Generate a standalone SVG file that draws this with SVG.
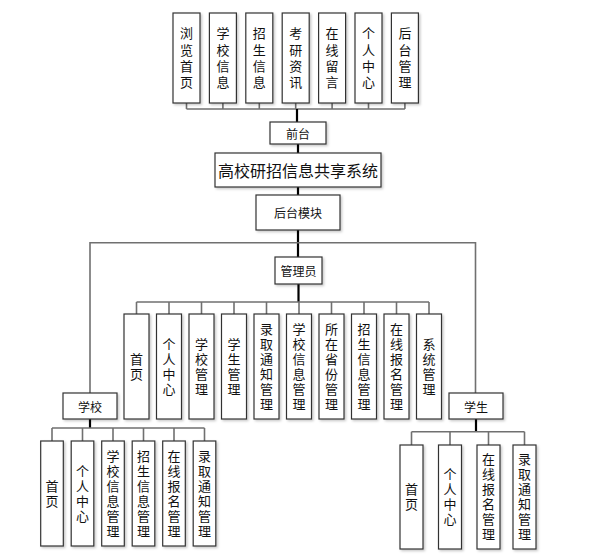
<svg xmlns="http://www.w3.org/2000/svg" width="607" height="558" viewBox="0 0 607 558">
  <defs>
    <filter id="sh" x="-20%" y="-20%" width="140%" height="140%">
      <feDropShadow dx="1.5" dy="1.5" stdDeviation="0.8" flood-color="#000" flood-opacity="0.22"/>
    </filter>
  </defs>
  <style>
    .box { fill: #ffffff; stroke: #333333; stroke-width: 1.2; filter: url(#sh); }
    .bus { stroke: #707070; stroke-width: 1.6; fill: none; }
    .trunk { stroke: #000000; stroke-width: 2.2; fill: none; }
    .t { font-family: "Noto Sans CJK SC", "Noto Sans", sans-serif; fill: #111; text-anchor: middle; }
    .h { font-size: 12px; dominant-baseline: central; }
    .title { font-size: 16px; dominant-baseline: central; }
    .v { font-size: 13px; writing-mode: vertical-rl; letter-spacing: 2px; }
    .vt { font-size: 13px; writing-mode: vertical-rl; letter-spacing: 3.3px; }
  </style>
  <rect width="607" height="558" fill="#ffffff"/>

  <!-- connectors -->
  <g id="connectors">
    <!-- front-end bus -->
    <path class="bus" d="M186.5 103V109M222.9 103V109M259.3 103V109M295.7 103V109M332.1 103V109M368.5 103V109M404.9 103V109M186.5 109H404.9"/>
    <path class="trunk" d="M297 109V122"/>
    <path class="trunk" d="M298 144V153M298 187V195M298 230V257"/>
    <!-- back-end bus to roles -->
    <path class="bus" d="M90 393V242.7H475.5V393"/>
    <!-- admin children -->
    <path class="trunk" d="M298.5 284V302"/>
    <path class="bus" d="M136.5 302H429M136.5 302V314M169 302V314M201.5 302V314M234 302V314M266.5 302V314M299 302V314M331.5 302V314M364 302V314M396.5 302V314M429 302V314"/>
    <!-- school children -->
    <path class="trunk" d="M90 419V428"/>
    <path class="bus" d="M52 428H204.5M52 428V441M82.5 428V441M113 428V441M143.5 428V441M174 428V441M204.5 428V441"/>
    <!-- student children -->
    <path class="trunk" d="M476 419V431.7"/>
    <path class="bus" d="M411.5 431.7H524.5M411.5 431.7V445M450 431.7V445M488.5 431.7V445M524.5 431.7V445"/>
  </g>

  <!-- front-end pages -->
  <g id="f1"><rect class="box" x="173" y="13" width="27" height="90"/><text class="t vt" x="186.5" y="59.5">浏览首页</text></g>
  <g id="f2"><rect class="box" x="209.4" y="13" width="27" height="90"/><text class="t vt" x="222.9" y="59.5">学校信息</text></g>
  <g id="f3"><rect class="box" x="245.8" y="13" width="27" height="90"/><text class="t vt" x="259.3" y="59.5">招生信息</text></g>
  <g id="f4"><rect class="box" x="282.2" y="13" width="27" height="90"/><text class="t vt" x="295.7" y="59.5">考研资讯</text></g>
  <g id="f5"><rect class="box" x="318.6" y="13" width="27" height="90"/><text class="t vt" x="332.1" y="59.5">在线留言</text></g>
  <g id="f6"><rect class="box" x="355" y="13" width="27" height="90"/><text class="t vt" x="368.5" y="59.5">个人中心</text></g>
  <g id="f7"><rect class="box" x="391.4" y="13" width="27" height="90"/><text class="t vt" x="404.9" y="59.5">后台管理</text></g>

  <!-- main spine -->
  <g id="frontend"><rect class="box" x="270" y="122" width="56" height="22"/><text class="t h" x="298" y="133">前台</text></g>
  <g id="system"><rect class="box" x="215" y="153" width="166" height="34"/><text class="t title" x="298" y="170">高校研招信息共享系统</text></g>
  <g id="backend"><rect class="box" x="256" y="195" width="84" height="35"/><text class="t h" x="298" y="212.5">后台模块</text></g>
  <g id="admin"><rect class="box" x="275" y="257" width="47" height="27"/><text class="t h" x="298.5" y="270.5">管理员</text></g>
  <g id="school"><rect class="box" x="63" y="393" width="54" height="26"/><text class="t h" x="90" y="406">学校</text></g>
  <g id="student"><rect class="box" x="449" y="393" width="54" height="26"/><text class="t h" x="476" y="406">学生</text></g>

  <!-- admin functions -->
  <g id="a1"><rect class="box" x="124" y="314" width="25" height="105"/><text class="t v" x="136.5" y="367.5">首页</text></g>
  <g id="a2"><rect class="box" x="156.5" y="314" width="25" height="105"/><text class="t v" x="169" y="367.5">个人中心</text></g>
  <g id="a3"><rect class="box" x="189" y="314" width="25" height="105"/><text class="t v" x="201.5" y="367.5">学校管理</text></g>
  <g id="a4"><rect class="box" x="221.5" y="314" width="25" height="105"/><text class="t v" x="234" y="367.5">学生管理</text></g>
  <g id="a5"><rect class="box" x="254" y="314" width="25" height="105"/><text class="t v" x="266.5" y="367.5">录取通知管理</text></g>
  <g id="a6"><rect class="box" x="286.5" y="314" width="25" height="105"/><text class="t v" x="299" y="367.5">学校信息管理</text></g>
  <g id="a7"><rect class="box" x="319" y="314" width="25" height="105"/><text class="t v" x="331.5" y="367.5">所在省份管理</text></g>
  <g id="a8"><rect class="box" x="351.5" y="314" width="25" height="105"/><text class="t v" x="364" y="367.5">招生信息管理</text></g>
  <g id="a9"><rect class="box" x="384" y="314" width="25" height="105"/><text class="t v" x="396.5" y="367.5">在线报名管理</text></g>
  <g id="a10"><rect class="box" x="416.5" y="314" width="25" height="105"/><text class="t v" x="429" y="367.5">系统管理</text></g>

  <!-- school functions -->
  <g id="s1"><rect class="box" x="40.7" y="441" width="22.6" height="105"/><text class="t v" x="52" y="494.5">首页</text></g>
  <g id="s2"><rect class="box" x="71.2" y="441" width="22.6" height="105"/><text class="t v" x="82.5" y="494.5">个人中心</text></g>
  <g id="s3"><rect class="box" x="101.7" y="441" width="22.6" height="105"/><text class="t v" x="113" y="494.5">学校信息管理</text></g>
  <g id="s4"><rect class="box" x="132.2" y="441" width="22.6" height="105"/><text class="t v" x="143.5" y="494.5">招生信息管理</text></g>
  <g id="s5"><rect class="box" x="162.7" y="441" width="22.6" height="105"/><text class="t v" x="174" y="494.5">在线报名管理</text></g>
  <g id="s6"><rect class="box" x="193.2" y="441" width="22.6" height="105"/><text class="t v" x="204.5" y="494.5">录取通知管理</text></g>

  <!-- student functions -->
  <g id="u1"><rect class="box" x="400" y="445" width="23" height="104"/><text class="t v" x="411.5" y="498">首页</text></g>
  <g id="u2"><rect class="box" x="438.5" y="445" width="23" height="104"/><text class="t v" x="450" y="498">个人中心</text></g>
  <g id="u3"><rect class="box" x="477" y="445" width="23" height="104"/><text class="t v" x="488.5" y="498">在线报名管理</text></g>
  <g id="u4"><rect class="box" x="513" y="445" width="23" height="104"/><text class="t v" x="524.5" y="498">录取通知管理</text></g>
</svg>
